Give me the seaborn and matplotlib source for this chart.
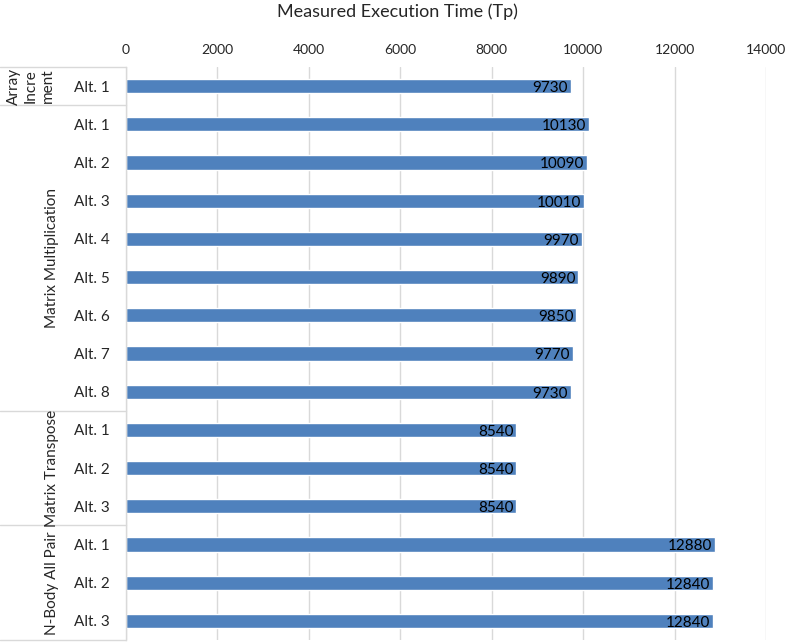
import matplotlib
matplotlib.use("Agg")
import matplotlib.pyplot as plt
import matplotlib.transforms as mtransforms
import pandas as pd
import seaborn as sns

# Data
groups = ["Array\nIncre\nment"] + ["Matrix Multiplication"] * 8 + ["Matrix Transpose"] * 3 + ["N-Body All Pair"] * 3
alts = ["Alt. 1",
        "Alt. 1", "Alt. 2", "Alt. 3", "Alt. 4", "Alt. 5", "Alt. 6", "Alt. 7", "Alt. 8",
        "Alt. 1", "Alt. 2", "Alt. 3",
        "Alt. 1", "Alt. 2", "Alt. 3"]
times = [9730,
         10130, 10090, 10010, 9970, 9890, 9850, 9770, 9730,
         8540, 8540, 8540,
         12880, 12840, 12840]
x_ticks = [0, 2000, 4000, 6000, 8000, 10000, 12000, 14000]

df = pd.DataFrame({"group": groups, "alt": alts, "time": times})
df["key"] = [f"{g}|{a}|{i}" for i, (g, a) in enumerate(zip(groups, alts))]

sns.set_style("white")
plt.rcParams["font.family"] = ["Lato", "DejaVu Sans"]

fig = plt.figure(figsize=(7.85, 6.43), dpi=100)
ax = fig.add_axes([126 / 785, 1 - 640 / 643, 640 / 785, 573 / 643])

sns.barplot(data=df, y="key", x="time", orient="h", color="#4F81BD",
            width=0.37, saturation=1, ax=ax)

ax.set_xlim(0, 14000)
ax.set_ylim(14.5, -0.5)
ax.set_xticks(x_ticks)
ax.xaxis.tick_top()
ax.tick_params(axis="x", length=0, pad=8, labelsize=10)
ax.set_yticks(range(len(alts)))
ax.set_yticklabels(alts)
ax.tick_params(axis="y", length=0, pad=12, labelsize=11)
ax.set_xlabel("")
ax.set_ylabel("")
ax.grid(axis="x", color="#D9D9D9", linewidth=1)
ax.set_axisbelow(True)
for s in ["top", "right", "bottom"]:
    ax.spines[s].set_visible(False)
ax.spines["left"].set_color("#D9D9D9")
ax.spines["left"].set_linewidth(1)

# value labels inside the bar ends
for i, v in enumerate(times):
    ax.text(v - 60, i + 0.05, str(v), ha="right", va="center", fontsize=11, color="black")

# group boxes on the left
trans = mtransforms.blended_transform_factory(ax.transAxes, ax.transData)
left = -126 / 640
for yb in [-0.5, 0.5, 8.5, 11.5, 14.5]:
    ax.plot([left, 0], [yb, yb], transform=trans, color="#D9D9D9", lw=1, clip_on=False)

group_names = ["Array\nIncre\nment", "Matrix Multiplication", "Matrix Transpose", "N-Body All Pair"]
group_mid = [0, 4.5, 10, 13]
group_x = [(31 - 126) / 640, (52 - 126) / 640, (52 - 126) / 640, (52 - 126) / 640]
for name, ym, gx in zip(group_names, group_mid, group_x):
    ax.text(gx, ym, name, transform=trans, rotation=90, ha="center", va="center",
            fontsize=11, linespacing=1.3, multialignment="center")

fig.text(397 / 785, 1 - 12 / 643, "Measured Execution Time (Tp)", ha="center", va="center", fontsize=13)

fig.savefig("out.png", dpi=100)
